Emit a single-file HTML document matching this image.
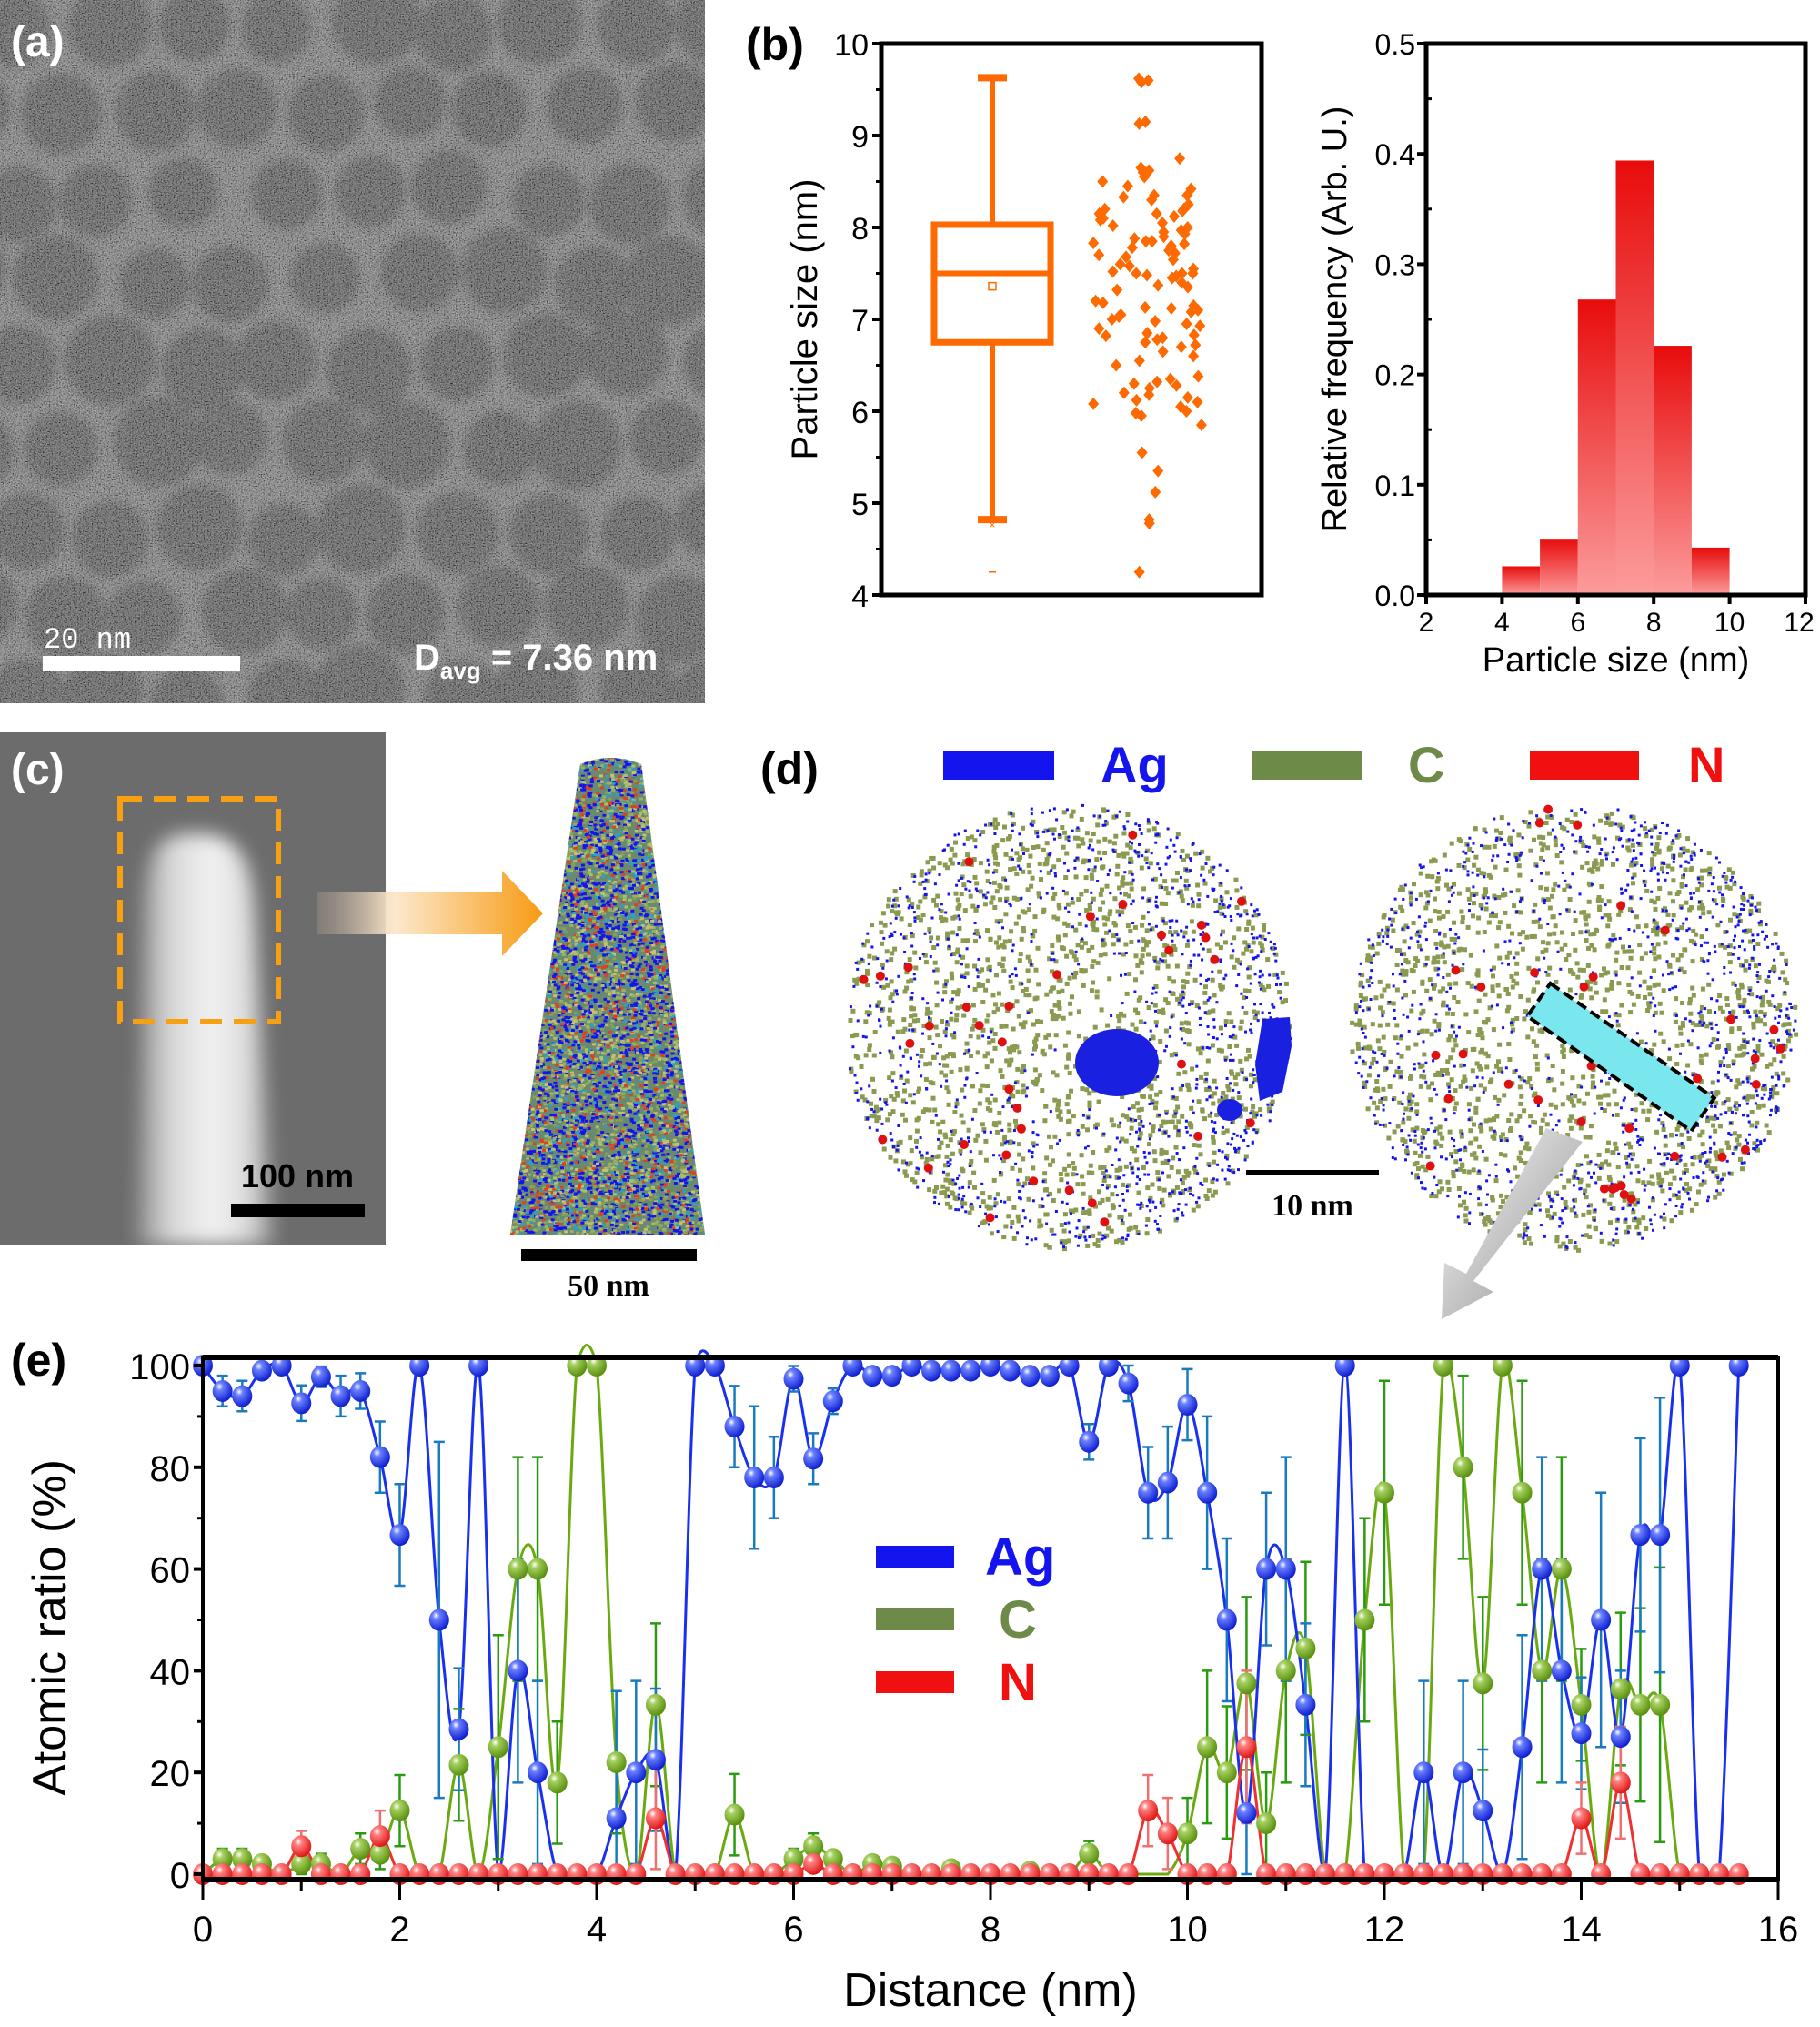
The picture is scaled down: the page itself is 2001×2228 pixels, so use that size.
<!DOCTYPE html>
<html><head><meta charset="utf-8">
<style>
html,body{margin:0;padding:0;background:#fff;}
svg{display:block;}
text{font-family:"Liberation Sans",sans-serif;}
</style></head>
<body>
<svg id="fig" width="2001" height="2228" viewBox="0 0 2001 2228" xmlns="http://www.w3.org/2000/svg">
<defs>
  <filter id="grain" x="0" y="0" width="100%" height="100%" filterUnits="userSpaceOnUse">
    <feTurbulence type="fractalNoise" baseFrequency="0.7" numOctaves="2" seed="3"/>
    <feColorMatrix type="matrix" values="1 1 1 0 -1.1  1 1 1 0 -1.1  1 1 1 0 -1.1  0 0 0 0 0.45"/>
  </filter>
  <filter id="blur4"><feGaussianBlur stdDeviation="5"/></filter>
  <filter id="blur10"><feGaussianBlur stdDeviation="10"/></filter>
  <linearGradient id="barGrad" x1="0" y1="0" x2="0" y2="1">
    <stop offset="0" stop-color="#e80c0c"/><stop offset="1" stop-color="#fc9c9c"/>
  </linearGradient>
  <linearGradient id="arrowGrad" x1="0" y1="0" x2="1" y2="0">
    <stop offset="0" stop-color="#b0a090" stop-opacity="0.3"/>
    <stop offset="0.35" stop-color="#fde8cc"/>
    <stop offset="1" stop-color="#f79b12"/>
  </linearGradient>
  <linearGradient id="grayArrow" x1="0" y1="0" x2="1" y2="1">
    <stop offset="0" stop-color="#ffffff"/><stop offset="1" stop-color="#8a8a8a"/>
  </linearGradient>
  <linearGradient id="colGrad" x1="0" y1="0" x2="1" y2="0">
    <stop offset="0" stop-color="#8a8a8a"/><stop offset="0.25" stop-color="#d8d8d8"/>
    <stop offset="0.55" stop-color="#f2f2f2"/><stop offset="0.8" stop-color="#dcdcdc"/><stop offset="1" stop-color="#8a8a8a"/>
  </linearGradient>
  <radialGradient id="ballAg" cx="0.35" cy="0.3" r="0.7"><stop offset="0" stop-color="#ffffff"/><stop offset="0.25" stop-color="#6a80ff"/><stop offset="1" stop-color="#1020d0"/></radialGradient>
  <radialGradient id="ballC" cx="0.35" cy="0.3" r="0.7"><stop offset="0" stop-color="#ffffff"/><stop offset="0.25" stop-color="#a6d060"/><stop offset="1" stop-color="#5a9010"/></radialGradient>
  <radialGradient id="ballN" cx="0.35" cy="0.3" r="0.7"><stop offset="0" stop-color="#ffffff"/><stop offset="0.25" stop-color="#ff8080"/><stop offset="1" stop-color="#e01818"/></radialGradient>
  <clipPath id="clipA"><rect x="0" y="0" width="775" height="773"/></clipPath>
  <clipPath id="clipC"><rect x="0" y="805" width="424" height="564"/></clipPath>
  <clipPath id="clipCone"><path d="M638,840 Q671,826 705,840 L775,1357 L561,1357 Z"/></clipPath>
</defs>

<!-- Panel a -->
<g id="panelA" clip-path="url(#clipA)">
  <rect x="0" y="0" width="775" height="773" fill="#7a7a7a"/>
  <g id="particles" filter="url(#blur4)"></g>
  <rect x="0" y="0" width="775" height="773" fill="#fff" filter="url(#grain)"/>
</g>
<text x="12" y="62" font-size="48" font-weight="bold" fill="#fff">(a)</text>
<rect x="47" y="721" width="217" height="17" fill="#fff"/>
<text x="48" y="712" font-size="32" fill="#fff" style="font-family:'Liberation Mono',monospace">20 nm</text>
<text x="455" y="736" font-size="40" font-weight="bold" fill="#fff">D<tspan font-size="26" dy="10">avg</tspan><tspan dy="-10"> = 7.36 nm</tspan></text>

<!-- Panel b -->
<text x="820" y="66" font-size="50" font-weight="bold">(b)</text>
<g id="boxplot"></g>
<g id="hist"></g>

<!-- Panel c -->
<g clip-path="url(#clipC)">
  <rect x="0" y="805" width="424" height="564" fill="#6c6c6c"/>
  <path d="M150,1369 L157,1000 C160,930 175,916 215,916 C258,916 275,935 281,1000 L302,1369 Z" fill="url(#colGrad)" filter="url(#blur10)"/>
</g>
<text x="12" y="862" font-size="48" font-weight="bold" fill="#fff">(c)</text>
<rect x="132" y="878" width="174" height="245" fill="none" stroke="#f7a012" stroke-width="6" stroke-dasharray="24,13"/>
<rect x="254" y="1323" width="147" height="15" fill="#000"/>
<text x="327" y="1305" font-size="36" font-weight="bold" text-anchor="middle" fill="#000">100 nm</text>
<path d="M348,980 L552,980 L552,957 L597,1004 L552,1051 L552,1027 L348,1027 Z" fill="url(#arrowGrad)"/>
<g clip-path="url(#clipCone)">
  <rect x="555" y="825" width="225" height="540" fill="#6a8a70"/>
  <g id="coneDots"></g>
</g>
<rect x="573" y="1373" width="193" height="13" fill="#000"/>
<text x="669" y="1424" font-size="34" font-weight="bold" text-anchor="middle" style="font-family:'Liberation Serif',serif">50 nm</text>

<!-- Panel d -->
<text x="836" y="862" font-size="50" font-weight="bold">(d)</text>
<g>
  <rect x="1037" y="826" width="122" height="31" fill="#1414ee"/>
  <text x="1210" y="860" font-size="56" font-weight="bold" fill="#1414ee">Ag</text>
  <rect x="1377" y="826" width="121" height="31" fill="#6e8a48"/>
  <text x="1548" y="860" font-size="56" font-weight="bold" fill="#6e8a48">C</text>
  <rect x="1682" y="826" width="120" height="31" fill="#f01010"/>
  <text x="1856" y="860" font-size="56" font-weight="bold" fill="#f01010">N</text>
</g>
<g id="sphereL"></g>
<g id="sphereR"></g>
<ellipse cx="1228" cy="1168" rx="46" ry="37" fill="#1a20e0"/>
<path d="M1388,1120 L1418,1118 L1420,1150 L1410,1200 L1385,1210 L1380,1170 Z" fill="#1a20e0"/>
<ellipse cx="1352" cy="1220" rx="14" ry="12" fill="#1a20e0"/>
<g transform="translate(1782,1162) rotate(35)">
  <rect x="-110" y="-22" width="220" height="44" fill="#7ae6ee" stroke="#000" stroke-width="4" stroke-dasharray="12,6"/>
</g>
<rect x="1370" y="1286" width="146" height="6" fill="#000"/>
<text x="1443" y="1336" font-size="34" font-weight="bold" text-anchor="middle" style="font-family:'Liberation Serif',serif">10 nm</text>
<path d="M1740,1255 L1700,1240 L1612,1400 L1588,1388 L1585,1450 L1642,1420 L1620,1408 Z" fill="url(#grayArrow)"/>

<!-- Panel e -->
<text x="12" y="1512" font-size="50" font-weight="bold">(e)</text>
<g id="lineChart"></g>
</svg>

<script>
const NS='http://www.w3.org/2000/svg';
function mk(tag,attrs,parent){const e=document.createElementNS(NS,tag);for(const k in attrs)e.setAttribute(k,attrs[k]);if(parent)parent.appendChild(e);return e;}
let seed=12345;
function rnd(){seed|=0;seed=seed+0x6D2B79F5|0;let t=Math.imul(seed^seed>>>15,1|seed);t=t+Math.imul(t^t>>>7,61|t)^t;return((t^t>>>14)>>>0)/4294967296;}

// ---------- Panel b data ----------
const boxStats=[4.82,6.75,7.5,8.03,9.63]; // min q1 median q3 max
const boxMean=[7.36];
const boxOutliers=[4.77,4.25];
const sizes=[9.62,9.6,9.58,9.15,9.13,8.75,8.65,8.62,8.6,8.55,8.5,8.45,8.42,8.35,8.35,8.33,8.3,8.25,8.2,8.2,8.18,8.15,8.15,8.12,8.1,8.08,8.05,8.02,8.0,7.97,7.95,7.93,7.9,7.88,7.85,7.85,7.83,7.82,7.8,7.78,7.75,7.72,7.7,7.68,7.65,7.6,7.58,7.55,7.52,7.5,7.5,7.5,7.48,7.47,7.45,7.4,7.37,7.35,7.32,7.2,7.18,7.15,7.13,7.12,7.1,7.08,7.05,7.03,7.0,6.98,6.95,6.93,6.9,6.85,6.83,6.82,6.8,6.78,6.75,6.72,6.7,6.65,6.6,6.55,6.5,6.38,6.35,6.32,6.3,6.28,6.25,6.2,6.18,6.15,6.12,6.1,6.08,6.05,6.0,5.98,5.95,5.85,5.55,5.35,5.12,4.82,4.78,4.25];
const boxTicks=[4,5,6,7,8,9,10];
const histBinStart=[4,5,6,7,8,9];
const histFreq=[0.026,0.051,0.268,0.394,0.226,0.043];
const histYTicks=[0.0,0.1,0.2,0.3,0.4,0.5];
const histXTicks=[2,4,6,8,10,12];

// ---------- Panel e data ----------
const distance=[];for(let i=0;i<79;i++)distance.push(+(i*0.2).toFixed(1));
const agVals=[100,95,94,99,100,92.6,97.8,94,95,82,66.7,100,50,28.5,100,0,40,20,0,0,0,11,20,22.5,0,100,100,88,78,78,97.4,81.7,93,100,98,98,100,99,99,99,100,99,98,98,100,85,100,96.5,75,77,92.3,75,50,12,60,60,33.3,0,100,0,0,0,20,0,20,12.5,0,25,60,40,27.7,50,27,66.7,66.7,100,0,0,100];
const agErr=[0,3,3,1.5,0,3.5,2,4,3.5,7,10,0,35,12,0,0,22,18,0,0,0,25,18,14,0,0,0,8,14,8,2.5,5,2.5,0,1,1,0,1,1,1,0,1,1,1,0,3.5,0,3.5,9,11,7,15,16,12,15,22,16,0,0,0,0,0,18,0,18,12,0,22,22,22,11,25,13,19,27,0,0,0,0];
const cVals=[0,3,3,2,0,2,2,0,5,4,12.5,0,0,21.5,0,25,60,60,18,100,100,22,0,33.3,0,0,0,11.7,0,0,3,5.5,3,0,2,1.5,0,0,1,0,0,0,0.5,0,0,4,0,0,0,0,8,25,20,37.5,10,40,44.4,0,0,50,75,0,0,100,80,37.5,100,75,40,60,33.3,0,36.4,33.3,33.3,0,0,0,0];
const cErr=[0,2,2,1,0,2,2,0,3,3,7,0,0,11,0,22,22,22,12,0,0,14,0,16,0,0,0,8,0,0,2,2.5,1.5,0,1,1,0,0,1,0,0,0,1,0,0,2.5,0,0,0,0,7,15,13,17,10,22,17,0,0,20,22,0,0,0,18,17,0,22,22,22,11,0,15,19,27,0,0,0,0];
const nVals=[0,0,0,0,0,5.5,0,0,0,7.5,0,0,0,0,0,0,0,0,0,0,0,0,0,11,0,0,0,0,0,0,0,2,0,0,0,0,0,0,0,0,0,0,0,0,0,0,0,0,12.5,8,0,0,0,25,0,0,0,0,0,0,0,0,0,0,0,0,0,0,0,0,11,0,18,0,0,0,0,0,0];
const nErr=[0,0,0,0,0,3,0,0,0,5,0,0,0,0,0,0,0,0,0,0,0,0,0,10,0,0,0,0,0,0,0,1.5,0,0,0,0,0,0,0,0,0,0,0,0,0,0,0,0,7,7,0,0,0,15,0,0,0,0,0,0,0,0,0,0,0,0,0,0,0,0,7,0,11,0,0,0,0,0,0];
const eXTicks=[0,2,4,6,8,10,12,14,16];
const eYTicks=[0,20,40,60,80,100];

// ---------- Panel a decoration ----------
(function(){
  const g=document.getElementById('particles');
  seed=77;
  for(let r=-1;r<9;r++){for(let c=-1;c<9;c++){
    const cx=c*96+(r%2?48:0)+20+(rnd()-0.5)*22, cy=r*92+30+(rnd()-0.5)*22, rad=38+rnd()*12;
    const e=mk('circle',{cx:cx,cy:cy,r:rad,fill:'#4a4a4a',opacity:0.9},g);
    
    
  }}
})();

// ---------- cone dots ----------
(function(){
  const g=document.getElementById('coneDots');seed=991;
  const cols=['#1414ee','#1414ee','#1414ee','#9ab060','#a8c070','#8aa050','#e04020','#30a0c0','#c8c070'];
  let s='';
  for(let i=0;i<9000;i++){const x=555+rnd()*225,y=825+rnd()*540;const c=cols[Math.floor(rnd()*cols.length)];s+=`<rect x="${x.toFixed(1)}" y="${y.toFixed(1)}" width="4" height="3" fill="${c}"/>`;}
  g.innerHTML=s;
})();

// ---------- spheres ----------
function sphere(id,cx,cy,R,sd){
  const g=document.getElementById(id);seed=sd;let s='';
  for(let i=0;i<1500;i++){const a=rnd()*6.283,r=R*Math.sqrt(rnd());s+=`<rect x="${(cx+r*Math.cos(a)).toFixed(1)}" y="${(cy+r*Math.sin(a)).toFixed(1)}" width="5" height="5" fill="#8a9a50"/>`;}
  for(let i=0;i<1300;i++){const a=rnd()*6.283,r=R*Math.pow(rnd(),0.3);const w=(Math.cos(a)>0.3?1:0);if(!w&&rnd()<0.4)continue;s+=`<rect x="${(cx+r*Math.cos(a)).toFixed(1)}" y="${(cy+r*Math.sin(a)).toFixed(1)}" width="3" height="3" fill="#1414ee"/>`;}
  for(let i=0;i<35;i++){const a=rnd()*6.283,r=R*Math.sqrt(rnd());s+=`<circle cx="${(cx+r*Math.cos(a)).toFixed(1)}" cy="${(cy+r*Math.sin(a)).toFixed(1)}" r="5" fill="#e01010"/>`;}
  g.innerHTML=s;
}
sphere('sphereL',1173,1127,245,5);
sphere('sphereR',1728,1127,245,9);

// ---------- Box plot ----------
(function(){
  const g=document.getElementById('boxplot');
  const L=969,R=1387,T=48,B=654;
  const y=v=>B-(v-4)/6*(B-T);
  const col='#ff6a00';
  const cx=1091,bw=64;
  let e;
  e=mk('line',{x1:cx,x2:cx,y1:y(boxStats[0]),y2:y(boxStats[1]),stroke:col,'stroke-width':6},g);
  
  e=mk('line',{x1:cx,x2:cx,y1:y(boxStats[3]),y2:y(boxStats[4]),stroke:col,'stroke-width':6},g);
  
  [boxStats[0],boxStats[4]].forEach(v=>{const c=mk('line',{x1:cx-16,x2:cx+16,y1:y(v),y2:y(v),stroke:col,'stroke-width':8},g);});
  e=mk('rect',{x:cx-bw,y:y(boxStats[3]),width:2*bw,height:y(boxStats[1])-y(boxStats[3]),fill:'none',stroke:col,'stroke-width':7},g);
  
  e=mk('line',{x1:cx-bw,x2:cx+bw,y1:y(boxStats[2]),y2:y(boxStats[2]),stroke:col,'stroke-width':6},g);
  
  e=mk('rect',{x:cx-4,y:y(boxMean[0])-4,width:8,height:8,fill:'none',stroke:col,'stroke-width':1.5},g);
  
  e=mk('text',{x:cx,y:y(boxOutliers[0])+5,'font-size':12,fill:col,'text-anchor':'middle'},g);e.textContent='×';
  
  e=mk('line',{x1:cx-4,x2:cx+4,y1:y(boxOutliers[1]),y2:y(boxOutliers[1]),stroke:col,'stroke-width':1.5},g);
  
  sizes.forEach((v,i)=>{
    const h=Math.sin(i*12.9898+v*78.233)*43758.5453;const j=h-Math.floor(h);
    const x=1262+(j-0.5)*120*(v>8.9||v<5.8?0.2:1);
    const d=mk('path',{d:`M${x},${y(v)-7} L${x+6},${y(v)} L${x},${y(v)+7} L${x-6},${y(v)} Z`,fill:col},g);
    
  });
  e=mk('rect',{x:L,y:T,width:R-L,height:B-T,fill:'none',stroke:'#000','stroke-width':5},g);
  
  boxTicks.forEach(v=>{
    mk('line',{x1:L,x2:L-10,y1:y(v),y2:y(v),stroke:'#000','stroke-width':4},g);
    if(v<10)mk('line',{x1:L,x2:L-6,y1:y(v+0.5),y2:y(v+0.5),stroke:'#000','stroke-width':3},g);
    const t=mk('text',{x:L-14,y:y(v)+13,'font-size':34,'text-anchor':'end'},g);t.textContent=v;
    
  });
  const t=mk('text',{x:0,y:0,'font-size':40,'text-anchor':'middle',transform:`translate(898,${(T+B)/2}) rotate(-90)`},g);
  t.textContent='Particle size (nm)';
})();

// ---------- Histogram ----------
(function(){
  const g=document.getElementById('hist');
  const L=1568,R=1985,T=48,B=654;
  const x=v=>L+(v-2)/10*(R-L), y=v=>B-v/0.5*(B-T);
  histBinStart.forEach((b,i)=>{
    const r=mk('rect',{x:x(b),y:y(histFreq[i]),width:x(b+1)-x(b),height:B-y(histFreq[i]),fill:'url(#barGrad)'},g);
    
  });
  const f=mk('rect',{x:L,y:T,width:R-L,height:B-T,fill:'none',stroke:'#000','stroke-width':5},g);
  
  histYTicks.forEach(v=>{
    mk('line',{x1:L,x2:L-10,y1:y(v),y2:y(v),stroke:'#000','stroke-width':4},g);
    if(v<0.5)mk('line',{x1:L,x2:L+6,y1:y(v+0.05),y2:y(v+0.05),stroke:'#000','stroke-width':3},g);
    const t=mk('text',{x:L-12,y:y(v)+12,'font-size':32,'text-anchor':'end'},g);t.textContent=v.toFixed(1);
    
  });
  histXTicks.forEach(v=>{
    mk('line',{x1:x(v),x2:x(v),y1:B,y2:B+10,stroke:'#000','stroke-width':4},g);
    const t=mk('text',{x:Math.min(x(v),1978),y:B+40,'font-size':30,'text-anchor':'middle'},g);t.textContent=v;
    
  });
  let t=mk('text',{x:(L+R)/2,y:738,'font-size':38,'text-anchor':'middle'},g);t.textContent='Particle size (nm)';
  
  t=mk('text',{x:0,y:0,'font-size':38,'text-anchor':'middle',transform:`translate(1480,${(T+B)/2}) rotate(-90)`},g);t.textContent='Relative frequency (Arb. U.)';
  
})();

// ---------- Line profile chart ----------
(function(){
  const g=document.getElementById('lineChart');
  const L=223,R=1955,T=1492,B=2066;
  const y0=2060,y100=1501;
  const x=v=>L+v/16*(R-L), y=v=>y0-v/100*(y0-y100);
  const cl=v=>Math.max(y100-30,Math.min(y0,v));
  function spline(vals){
    const p=distance.map((d,i)=>[x(d),y(vals[i])]);
    let d=`M${p[0][0]},${p[0][1]}`;
    for(let i=0;i<p.length-1;i++){
      const p0=p[Math.max(0,i-1)],p1=p[i],p2=p[i+1],p3=p[Math.min(p.length-1,i+2)];
      const c1=[p1[0]+(p2[0]-p0[0])/6,cl(p1[1]+(p2[1]-p0[1])/6)],c2=[p2[0]-(p3[0]-p1[0])/6,cl(p2[1]-(p3[1]-p1[1])/6)];
      d+=` C${c1[0].toFixed(1)},${c1[1].toFixed(1)} ${c2[0].toFixed(1)},${c2[1].toFixed(1)} ${p2[0].toFixed(1)},${p2[1].toFixed(1)}`;
    }
    return d;
  }
  const series=[
    {vals:cVals,err:cErr,line:'#6aaa10',ecol:'#2a9a10',ball:'url(#ballC)',name:'c',showZero:false},
    {vals:agVals,err:agErr,line:'#1a30f0',ecol:'#1a7ac0',ball:'url(#ballAg)',name:'ag',showZero:false},
    {vals:nVals,err:nErr,line:'#f03030',ecol:'#f07070',ball:'url(#ballN)',name:'n',showZero:true}
  ];
  series.forEach(s=>{
    const p=mk('path',{d:spline(s.vals),fill:'none',stroke:s.line,'stroke-width':3},g);
    
  });
  series.forEach(s=>{
    distance.forEach((d,i)=>{
      if(s.err[i]>0){
        const e=mk('path',{d:`M${x(d)},${y(Math.min(100,s.vals[i]+s.err[i]))} V${y(Math.max(0,s.vals[i]-s.err[i]))} M${x(d)-6},${y(Math.min(100,s.vals[i]+s.err[i]))} h12 M${x(d)-6},${y(Math.max(0,s.vals[i]-s.err[i]))} h12`,stroke:s.ecol,'stroke-width':2.5,fill:'none'},g);
        
      }
    });
  });
  series.forEach(s=>{
    distance.forEach((d,i)=>{
      if(s.vals[i]<=0&&!s.showZero)return;
      const c=mk('ellipse',{cx:x(d),cy:y(s.vals[i]),rx:11,ry:12,fill:s.ball},g);
      
    });
  });
  let e=mk('rect',{x:L,y:T,width:R-L,height:B-T,fill:'none',stroke:'#000','stroke-width':4},g);
  
  mk('line',{x1:L,x2:R,y1:T,y2:T,stroke:'#000','stroke-width':6},g);
  mk('line',{x1:L,x2:R,y1:B,y2:B,stroke:'#000','stroke-width':6},g);
  eXTicks.forEach(v=>{
    mk('line',{x1:x(v),x2:x(v),y1:B,y2:B+22,stroke:'#000','stroke-width':3},g);
    if(v<16)mk('line',{x1:x(v+1),x2:x(v+1),y1:B,y2:B+12,stroke:'#000','stroke-width':3},g);
    const t=mk('text',{x:x(v),y:B+68,'font-size':40,'text-anchor':'middle'},g);t.textContent=v;
    
  });
  eYTicks.forEach(v=>{
    mk('line',{x1:L,x2:L-10,y1:y(v),y2:y(v),stroke:'#000','stroke-width':4},g);
    if(v<100)mk('line',{x1:L,x2:L-6,y1:y(v+10),y2:y(v+10),stroke:'#000','stroke-width':3},g);
    const t=mk('text',{x:L-14,y:y(v)+15,'font-size':40,'text-anchor':'end'},g);t.textContent=v;
    
  });
  let t=mk('text',{x:(L+R)/2,y:2205,'font-size':52,'text-anchor':'middle'},g);t.textContent='Distance (nm)';
  
  t=mk('text',{x:0,y:0,'font-size':52,'text-anchor':'middle',transform:`translate(72,${(T+B)/2+10}) rotate(-90)`},g);t.textContent='Atomic ratio (%)';
  
  const leg=[['Ag','#1414ee',1711],['C','#6e8a48',1780],['N','#f01010',1849]];
  leg.forEach(l=>{
    const r=mk('rect',{x:963,y:l[2]-12,width:86,height:24,fill:l[1]},g);
    
    const tx=mk('text',{x:l[0]==='Ag'?1083:1098,y:l[2]+20,'font-size':58,'font-weight':'bold',fill:l[1]},g);tx.textContent=l[0];
    
  });
})();
</script>
</body></html>
